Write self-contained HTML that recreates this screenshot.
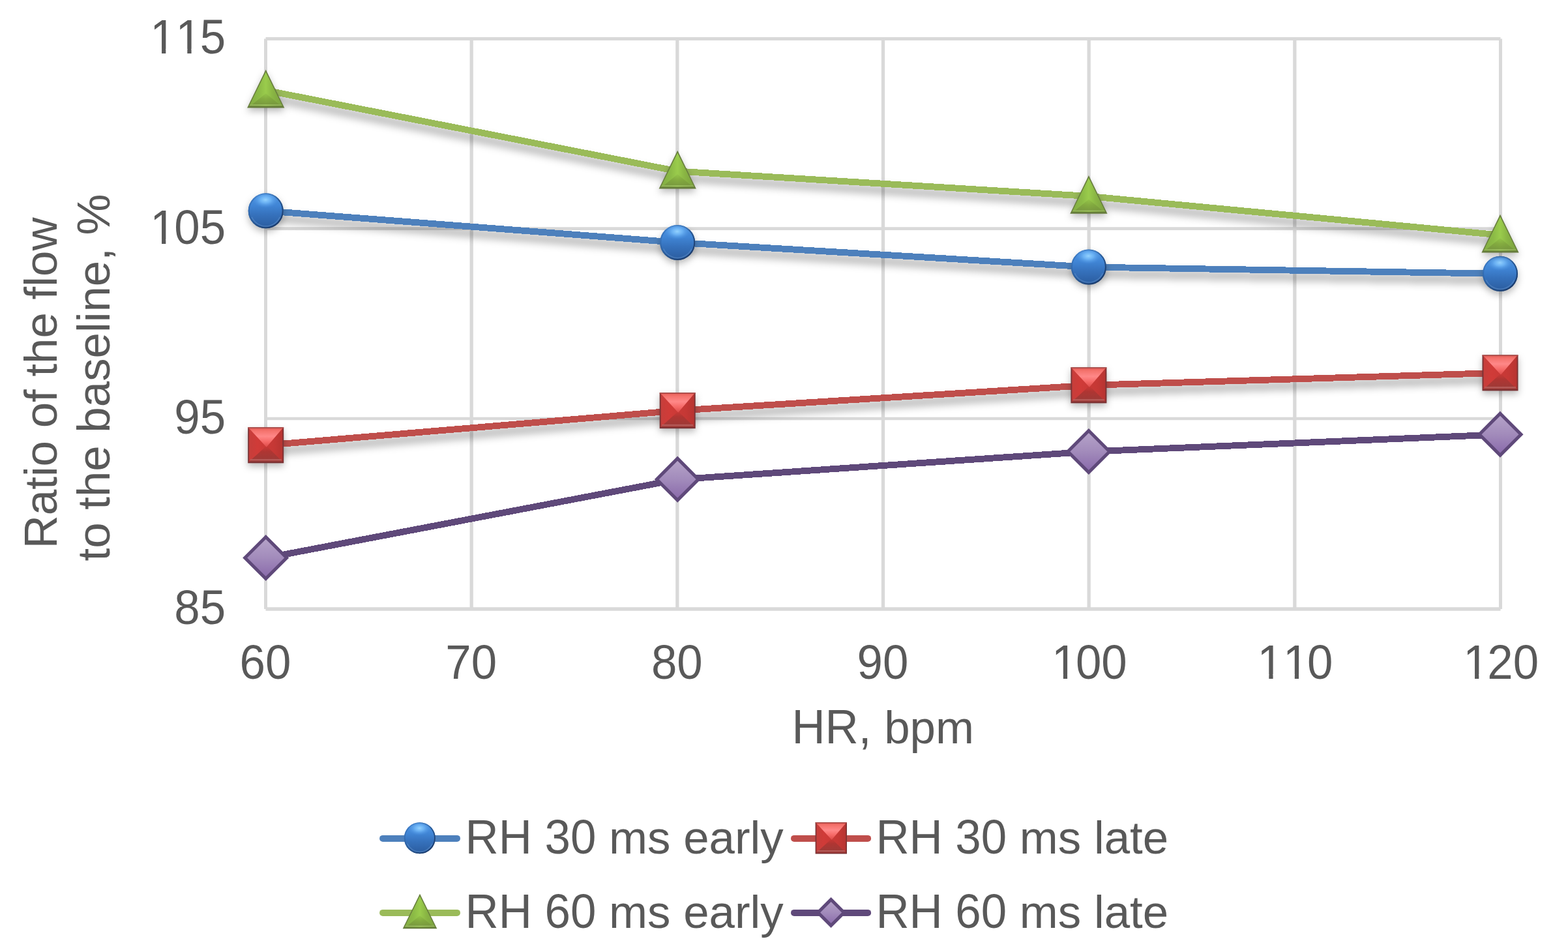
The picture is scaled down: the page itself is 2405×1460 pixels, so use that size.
<!DOCTYPE html>
<html lang="en"><head><meta charset="utf-8"><title>Ratio of the flow to the baseline, % vs HR, bpm</title>
<style>
html,body{margin:0;padding:0;background:#fff;}
body{width:2405px;height:1460px;overflow:hidden;position:relative;}
svg{display:block;position:absolute;left:0;top:0;}
text{font-family:"Liberation Sans",sans-serif;font-size:70.83px;fill:#595959;font-kerning:none;white-space:pre;}
</style></head><body>
<svg width="2405" height="1460" viewBox="0 0 2405 1460">
<defs>
<filter id="shL" x="-2%" y="-30%" width="104%" height="180%" color-interpolation-filters="sRGB"><feGaussianBlur in="SourceAlpha" stdDeviation="6.6"/><feOffset dx="0" dy="10" result="b"/><feFlood flood-color="#000" flood-opacity="0.345"/><feComposite in2="b" operator="in" result="s"/><feMerge><feMergeNode in="s"/><feMergeNode in="SourceGraphic"/></feMerge></filter>
<filter id="shM" x="-40%" y="-40%" width="180%" height="200%" color-interpolation-filters="sRGB"><feGaussianBlur in="SourceAlpha" stdDeviation="5.5"/><feOffset dx="0" dy="5" result="b"/><feFlood flood-color="#000" flood-opacity="0.27"/><feComposite in2="b" operator="in" result="s"/><feMerge><feMergeNode in="s"/><feMergeNode in="SourceGraphic"/></feMerge></filter>
<linearGradient id="gBlue" x1="0" y1="-27" x2="0" y2="27" gradientUnits="userSpaceOnUse"><stop offset="0" stop-color="#4E94E2"/><stop offset=".35" stop-color="#4085D5"/><stop offset=".6" stop-color="#3672BD"/><stop offset="1" stop-color="#2A5B9D"/></linearGradient>
<linearGradient id="gBlueRim" x1="-19" y1="-19" x2="19" y2="19" gradientUnits="userSpaceOnUse"><stop offset="0" stop-color="#3671B9" stop-opacity=".8"/><stop offset=".5" stop-color="#295892" stop-opacity=".92"/><stop offset="1" stop-color="#1B3A69"/></linearGradient>
<radialGradient id="gBlueHi" cx="0" cy="0" r="1" gradientUnits="userSpaceOnUse" gradientTransform="translate(-0.5 -17) scale(20 12.5)"><stop offset="0" stop-color="#96D4FF" stop-opacity=".98"/><stop offset=".4" stop-color="#74BBFA" stop-opacity=".8"/><stop offset="1" stop-color="#4E94E2" stop-opacity="0"/></radialGradient>
<linearGradient id="gRed" x1="-25.6" y1="0" x2="25.6" y2="0" gradientUnits="userSpaceOnUse"><stop offset="0" stop-color="#C63E3B"/><stop offset=".25" stop-color="#D03B38"/><stop offset=".75" stop-color="#C53835"/><stop offset="1" stop-color="#B73431"/></linearGradient>
<linearGradient id="gRedHi" x1="0" y1="-25.8" x2="0" y2="3" gradientUnits="userSpaceOnUse"><stop offset="0" stop-color="#E8605A"/><stop offset=".12" stop-color="#F4726C"/><stop offset=".42" stop-color="#FF8888"/><stop offset=".7" stop-color="#F66A68"/><stop offset="1" stop-color="#DC4A48"/></linearGradient>
<linearGradient id="gRedLo" x1="0" y1="1" x2="0" y2="25.2" gradientUnits="userSpaceOnUse"><stop offset="0" stop-color="#C03633" stop-opacity=".3"/><stop offset=".35" stop-color="#AC3532" stop-opacity=".9"/><stop offset="1" stop-color="#9A3B38"/></linearGradient>
<linearGradient id="gGreen" x1="-25.6" y1="0" x2="25.6" y2="0" gradientUnits="userSpaceOnUse"><stop offset="0" stop-color="#82AB42"/><stop offset=".3" stop-color="#8CBB46"/><stop offset=".5" stop-color="#9ACC4C"/><stop offset=".7" stop-color="#8AB644"/><stop offset="1" stop-color="#7A9F3E"/></linearGradient>
<linearGradient id="gGreenLo" x1="0" y1="7" x2="0" y2="24" gradientUnits="userSpaceOnUse"><stop offset="0" stop-color="#86B141" stop-opacity=".35"/><stop offset=".5" stop-color="#7CA03C" stop-opacity=".7"/><stop offset="1" stop-color="#76963D" stop-opacity=".9"/></linearGradient>
<linearGradient id="gPurple" x1="0" y1="0" x2="0" y2="1"><stop offset="0" stop-color="#B7A5CA"/><stop offset=".5" stop-color="#A28BBB"/><stop offset="1" stop-color="#8868AA"/></linearGradient>
</defs>
<rect width="2405" height="1460" fill="#fff"/>
<g stroke="#D9D9D9" fill="none">
<line x1="407.5" y1="59.5" x2="407.5" y2="934.0" stroke-width="5"/>
<line x1="723.17" y1="59.5" x2="723.17" y2="934.0" stroke-width="5.3"/>
<line x1="1038.83" y1="59.5" x2="1038.83" y2="934.0" stroke-width="5.3"/>
<line x1="1354.5" y1="59.5" x2="1354.5" y2="934.0" stroke-width="5.3"/>
<line x1="1670.17" y1="59.5" x2="1670.17" y2="934.0" stroke-width="5.3"/>
<line x1="1985.83" y1="59.5" x2="1985.83" y2="934.0" stroke-width="5.3"/>
<line x1="2301.5" y1="59.5" x2="2301.5" y2="934.0" stroke-width="5"/>
<line x1="407.5" y1="59.5" x2="2301.5" y2="59.5" stroke-width="5"/>
<line x1="407.5" y1="350.6" x2="2301.5" y2="350.6" stroke-width="4.6"/>
<line x1="407.5" y1="642" x2="2301.5" y2="642" stroke-width="4.7"/>
<line x1="407.5" y1="934" x2="2301.5" y2="934" stroke-width="5.6"/>
</g>
<g id="series-blue">
<g filter="url(#shL)"><polyline points="407.7,323.34 1039.2,371.95 1669.9,409.54 2301,419.8" fill="none" stroke="#4D80BC" stroke-width="9.9" stroke-linejoin="round" stroke-linecap="butt" shape-rendering="crispEdges"/></g>
<g transform="translate(407.7 323.34) scale(1)" filter="url(#shM)"><circle r="27" fill="url(#gBlue)"/><circle r="26" fill="none" stroke="url(#gBlueRim)" stroke-width="2"/><path d="M-21.5,9.5 A23.5,23.5 0 0 0 21.5,9.5" fill="none" stroke="#79A6DD" stroke-opacity=".34" stroke-width="1.5"/><ellipse cx="-0.5" cy="-15" rx="20" ry="11.5" fill="url(#gBlueHi)"/></g>
<g transform="translate(1039.2 371.95) scale(1)" filter="url(#shM)"><circle r="27" fill="url(#gBlue)"/><circle r="26" fill="none" stroke="url(#gBlueRim)" stroke-width="2"/><path d="M-21.5,9.5 A23.5,23.5 0 0 0 21.5,9.5" fill="none" stroke="#79A6DD" stroke-opacity=".34" stroke-width="1.5"/><ellipse cx="-0.5" cy="-15" rx="20" ry="11.5" fill="url(#gBlueHi)"/></g>
<g transform="translate(1669.9 409.54) scale(1)" filter="url(#shM)"><circle r="27" fill="url(#gBlue)"/><circle r="26" fill="none" stroke="url(#gBlueRim)" stroke-width="2"/><path d="M-21.5,9.5 A23.5,23.5 0 0 0 21.5,9.5" fill="none" stroke="#79A6DD" stroke-opacity=".34" stroke-width="1.5"/><ellipse cx="-0.5" cy="-15" rx="20" ry="11.5" fill="url(#gBlueHi)"/></g>
<g transform="translate(2301 419.8) scale(1)" filter="url(#shM)"><circle r="27" fill="url(#gBlue)"/><circle r="26" fill="none" stroke="url(#gBlueRim)" stroke-width="2"/><path d="M-21.5,9.5 A23.5,23.5 0 0 0 21.5,9.5" fill="none" stroke="#79A6DD" stroke-opacity=".34" stroke-width="1.5"/><ellipse cx="-0.5" cy="-15" rx="20" ry="11.5" fill="url(#gBlueHi)"/></g>
</g>
<g id="series-red">
<g filter="url(#shL)"><polyline points="407.7,682.8 1039.2,629.67 1669.9,590.86 2301,571.84" fill="none" stroke="#BF4E4B" stroke-width="9.9" stroke-linejoin="round" stroke-linecap="butt" shape-rendering="crispEdges"/></g>
<g transform="translate(407.7 682.8) scale(1)" filter="url(#shM)"><rect x="-27.5" y="-27.5" width="55" height="55" fill="#7C3234"/><rect x="-25.6" y="-25.8" width="51.2" height="51" fill="url(#gRed)"/><polygon points="-25.6,25.2 25.6,25.2 1,1" fill="url(#gRedLo)"/><polygon points="-25.6,-25.8 25.6,-25.8 1,3" fill="url(#gRedHi)"/><rect x="-27.5" y="-27.5" width="55" height="1.8" fill="#B24E4B"/><rect x="-24" y="21.2" width="48" height="2.4" fill="#B9605E" fill-opacity=".85"/></g>
<g transform="translate(1039.2 629.67) scale(1)" filter="url(#shM)"><rect x="-27.5" y="-27.5" width="55" height="55" fill="#7C3234"/><rect x="-25.6" y="-25.8" width="51.2" height="51" fill="url(#gRed)"/><polygon points="-25.6,25.2 25.6,25.2 1,1" fill="url(#gRedLo)"/><polygon points="-25.6,-25.8 25.6,-25.8 1,3" fill="url(#gRedHi)"/><rect x="-27.5" y="-27.5" width="55" height="1.8" fill="#B24E4B"/><rect x="-24" y="21.2" width="48" height="2.4" fill="#B9605E" fill-opacity=".85"/></g>
<g transform="translate(1669.9 590.86) scale(1)" filter="url(#shM)"><rect x="-27.5" y="-27.5" width="55" height="55" fill="#7C3234"/><rect x="-25.6" y="-25.8" width="51.2" height="51" fill="url(#gRed)"/><polygon points="-25.6,25.2 25.6,25.2 1,1" fill="url(#gRedLo)"/><polygon points="-25.6,-25.8 25.6,-25.8 1,3" fill="url(#gRedHi)"/><rect x="-27.5" y="-27.5" width="55" height="1.8" fill="#B24E4B"/><rect x="-24" y="21.2" width="48" height="2.4" fill="#B9605E" fill-opacity=".85"/></g>
<g transform="translate(2301 571.84) scale(1)" filter="url(#shM)"><rect x="-27.5" y="-27.5" width="55" height="55" fill="#7C3234"/><rect x="-25.6" y="-25.8" width="51.2" height="51" fill="url(#gRed)"/><polygon points="-25.6,25.2 25.6,25.2 1,1" fill="url(#gRedLo)"/><polygon points="-25.6,-25.8 25.6,-25.8 1,3" fill="url(#gRedHi)"/><rect x="-27.5" y="-27.5" width="55" height="1.8" fill="#B24E4B"/><rect x="-24" y="21.2" width="48" height="2.4" fill="#B9605E" fill-opacity=".85"/></g>
</g>
<g id="series-green">
<g filter="url(#shL)"><polyline points="407.7,138.56 1039.2,262.58 1669.9,300.95 2301,360.56" fill="none" stroke="#9ABB59" stroke-width="9.9" stroke-linejoin="round" stroke-linecap="butt" shape-rendering="crispEdges"/></g>
<g transform="translate(407.7 136.26) scale(1 1)" filter="url(#shM)"><polygon points="0,-29.6 28.6,29.2 -28.6,29.2" fill="#667C3C"/><polygon points="0,-25.8 25.6,26.2 -25.6,26.2" fill="url(#gGreen)"/><polygon points="0,7 21,24 -21,24" fill="url(#gGreenLo)"/><polygon points="-23.6,23.9 23.6,23.9 24.9,25.4 -24.9,25.4" fill="#9CB568" fill-opacity=".75"/></g>
<g transform="translate(1039.2 260.28) scale(1 1)" filter="url(#shM)"><polygon points="0,-29.6 28.6,29.2 -28.6,29.2" fill="#667C3C"/><polygon points="0,-25.8 25.6,26.2 -25.6,26.2" fill="url(#gGreen)"/><polygon points="0,7 21,24 -21,24" fill="url(#gGreenLo)"/><polygon points="-23.6,23.9 23.6,23.9 24.9,25.4 -24.9,25.4" fill="#9CB568" fill-opacity=".75"/></g>
<g transform="translate(1669.9 298.65) scale(1 1)" filter="url(#shM)"><polygon points="0,-29.6 28.6,29.2 -28.6,29.2" fill="#667C3C"/><polygon points="0,-25.8 25.6,26.2 -25.6,26.2" fill="url(#gGreen)"/><polygon points="0,7 21,24 -21,24" fill="url(#gGreenLo)"/><polygon points="-23.6,23.9 23.6,23.9 24.9,25.4 -24.9,25.4" fill="#9CB568" fill-opacity=".75"/></g>
<g transform="translate(2301 358.26) scale(1 1)" filter="url(#shM)"><polygon points="0,-29.6 28.6,29.2 -28.6,29.2" fill="#667C3C"/><polygon points="0,-25.8 25.6,26.2 -25.6,26.2" fill="url(#gGreen)"/><polygon points="0,7 21,24 -21,24" fill="url(#gGreenLo)"/><polygon points="-23.6,23.9 23.6,23.9 24.9,25.4 -24.9,25.4" fill="#9CB568" fill-opacity=".75"/></g>
</g>
<g id="series-purple">
<g><polyline points="407.7,855.72 1039.2,735.34 1669.9,692.62 2301,666.35" fill="none" stroke="#5F497A" stroke-width="9.9" stroke-linejoin="round" stroke-linecap="butt" shape-rendering="crispEdges"/></g>
<polygon points="407.7,823.52 439.7,855.52 407.7,887.52 375.7,855.52" fill="url(#gPurple)" stroke="#5F497A" stroke-width="5" stroke-linejoin="miter"/>
<polygon points="1039.2,703.14 1071.2,735.14 1039.2,767.14 1007.2,735.14" fill="url(#gPurple)" stroke="#5F497A" stroke-width="5" stroke-linejoin="miter"/>
<polygon points="1669.9,660.42 1701.9,692.42 1669.9,724.42 1637.9,692.42" fill="url(#gPurple)" stroke="#5F497A" stroke-width="5" stroke-linejoin="miter"/>
<polygon points="2301,634.15 2333,666.15 2301,698.15 2269,666.15" fill="url(#gPurple)" stroke="#5F497A" stroke-width="5" stroke-linejoin="miter"/>
</g>
<g id="y-axis-labels">
<text transform="translate(0 81.9) scale(1 1.04)" x="230.25 269.5 306.75" y="0">115</text><rect x="234" y="75" width="14.06" height="9" fill="#fff"/><rect x="254.32" y="75" width="13.68" height="9" fill="#fff"/><rect x="273" y="75" width="14.31" height="9" fill="#fff"/><rect x="293.57" y="75" width="13.43" height="9" fill="#fff"/>
<text transform="translate(0 373.8) scale(1 1.04)" x="230.25 267.25 306.75" y="0">105</text><rect x="234" y="367" width="14.06" height="9" fill="#fff"/><rect x="254.32" y="367" width="13.68" height="9" fill="#fff"/>
<text transform="translate(0 665) scale(1 1.04)" x="267.25 306.75" y="0">95</text>
<text transform="translate(0 956.8) scale(1 1.04)" x="267.25 306.75" y="0">85</text>
</g>
<g id="x-axis-labels">
<text transform="translate(0 1041.2) scale(1 1.04)" x="367.5 407" y="0">60</text>
<text transform="translate(0 1041.2) scale(1 1.04)" x="683.25 722.75" y="0">70</text>
<text transform="translate(0 1041.2) scale(1 1.04)" x="999 1038.25" y="0">80</text>
<text transform="translate(0 1041.2) scale(1 1.04)" x="1314.5 1354" y="0">90</text>
<text transform="translate(0 1041.2) scale(1 1.04)" x="1613 1650 1689.25" y="0">100</text><rect x="1617" y="1034" width="13.81" height="10" fill="#fff"/><rect x="1637.07" y="1034" width="12.93" height="10" fill="#fff"/>
<text transform="translate(0 1041.2) scale(1 1.04)" x="1928.5 1968 2005" y="0">110</text><rect x="1932" y="1034" width="14.31" height="10" fill="#fff"/><rect x="1952.57" y="1034" width="13.43" height="10" fill="#fff"/><rect x="1972" y="1034" width="13.81" height="10" fill="#fff"/><rect x="1992.07" y="1034" width="12.93" height="10" fill="#fff"/>
<text transform="translate(0 1041.2) scale(1 1.04)" x="2244.25 2281.25 2320.75" y="0">120</text><rect x="2248" y="1034" width="14.06" height="10" fill="#fff"/><rect x="2268.32" y="1034" width="13.68" height="10" fill="#fff"/>
</g>
<g id="axis-titles">
<text x="1214.48" y="1139.8"><tspan font-size="73.66" textLength="121.98" lengthAdjust="spacingAndGlyphs">HR,</tspan> bpm</text>
<text transform="translate(87.1 587.4) rotate(-90)" text-anchor="middle">Ratio of the flow</text>
<text transform="translate(167.9 579.0) rotate(-90)" text-anchor="middle">to the baseline, %</text>
</g>
<g id="legend">
<line x1="587.1" y1="1285.9" x2="701" y2="1285.9" stroke="#4D80BC" stroke-width="10" stroke-linecap="round"/>
<g transform="translate(643.8 1285.3) scale(0.89)"><circle r="27" fill="url(#gBlue)"/><circle r="26" fill="none" stroke="url(#gBlueRim)" stroke-width="2"/><path d="M-21.5,9.5 A23.5,23.5 0 0 0 21.5,9.5" fill="none" stroke="#79A6DD" stroke-opacity=".34" stroke-width="1.5"/><ellipse cx="-0.5" cy="-15" rx="20" ry="11.5" fill="url(#gBlueHi)"/></g>
<text x="713.6" y="1309"><tspan font-size="73.66" textLength="200.77" lengthAdjust="spacingAndGlyphs">RH 30</tspan> ms early</text>
<line x1="1218" y1="1285.9" x2="1331.1" y2="1285.9" stroke="#BF4E4B" stroke-width="10" stroke-linecap="round"/>
<g transform="translate(1274.8 1285.3) scale(0.88)"><rect x="-27.5" y="-27.5" width="55" height="55" fill="#7C3234"/><rect x="-25.6" y="-25.8" width="51.2" height="51" fill="url(#gRed)"/><polygon points="-25.6,25.2 25.6,25.2 1,1" fill="url(#gRedLo)"/><polygon points="-25.6,-25.8 25.6,-25.8 1,3" fill="url(#gRedHi)"/><rect x="-27.5" y="-27.5" width="55" height="1.8" fill="#B24E4B"/><rect x="-24" y="21.2" width="48" height="2.4" fill="#B9605E" fill-opacity=".85"/></g>
<text x="1343.4" y="1309"><tspan font-size="73.66" textLength="200.77" lengthAdjust="spacingAndGlyphs">RH 30</tspan> ms late</text>
<line x1="587.1" y1="1399.9" x2="701" y2="1399.9" stroke="#9ABB59" stroke-width="10" stroke-linecap="round"/>
<g transform="translate(644 1397.8) scale(0.92 0.91)"><polygon points="0,-29.6 28.6,29.2 -28.6,29.2" fill="#667C3C"/><polygon points="0,-25.8 25.6,26.2 -25.6,26.2" fill="url(#gGreen)"/><polygon points="0,7 21,24 -21,24" fill="url(#gGreenLo)"/><polygon points="-23.6,23.9 23.6,23.9 24.9,25.4 -24.9,25.4" fill="#9CB568" fill-opacity=".75"/></g>
<text x="713.6" y="1423"><tspan font-size="73.66" textLength="200.77" lengthAdjust="spacingAndGlyphs">RH 60</tspan> ms early</text>
<line x1="1218" y1="1399.9" x2="1331.1" y2="1399.9" stroke="#5F497A" stroke-width="10" stroke-linecap="round"/>
<polygon points="1274.6,1379.5 1294.6,1399.5 1274.6,1419.5 1254.6,1399.5" fill="url(#gPurple)" stroke="#5F497A" stroke-width="5" stroke-linejoin="miter"/>
<text x="1343.4" y="1423"><tspan font-size="73.66" textLength="200.77" lengthAdjust="spacingAndGlyphs">RH 60</tspan> ms late</text>
</g>
</svg>
</body></html>
